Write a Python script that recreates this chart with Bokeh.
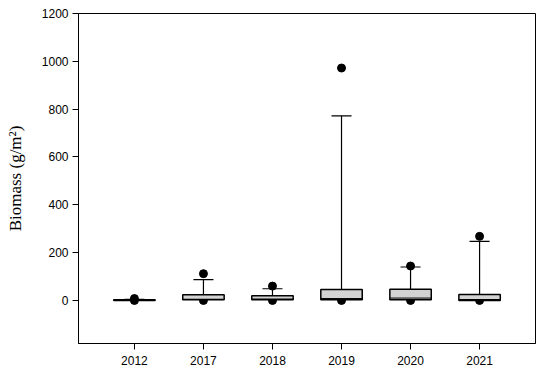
from bokeh.plotting import figure
from bokeh.models import FixedTicker, Range1d
from bokeh.embed import file_html
from bokeh.resources import INLINE

years = ["2012", "2017", "2018", "2019", "2020", "2021"]
q1 = [0, 3, 3, 3, 3, 0]
median = [1, 5, 6, 8, 10, 4]
q3 = [3, 24, 20, 46, 47, 25]
whisker_lo = [0, 0, 0, 0, 0, 0]
whisker_hi = [5, 87, 49, 772, 140, 247]
outlier_hi = [8, 112, 60, 972, 144, 268]
outlier_lo = [0, 0, 0, 0, 0, 0]
y_ticks = [0, 200, 400, 600, 800, 1000, 1200]

xs = list(range(1, len(years) + 1))
box_w = 0.6
cap_w = 0.29

p = figure(width=548, height=372, output_backend="svg", toolbar_location=None,
           x_range=Range1d(0.19, 6.81), y_range=Range1d(-180, 1200),
           min_border_left=78, min_border_right=13, min_border_top=13, min_border_bottom=29)
p.grid.visible = False
p.outline_line_color = "black"
p.outline_line_width = 1
p.background_fill_color = "white"
p.border_fill_color = "white"

# lower outliers (partly hidden behind boxes)
p.scatter(x=xs, y=outlier_lo, size=8, color="black")
# whiskers
p.segment(x0=xs, y0=q3, x1=xs, y1=whisker_hi, line_color="black", line_width=1.2)
p.segment(x0=xs, y0=q1, x1=xs, y1=whisker_lo, line_color="black", line_width=1.2)
p.segment(x0=[x - cap_w / 2 for x in xs], y0=whisker_hi,
          x1=[x + cap_w / 2 for x in xs], y1=whisker_hi, line_color="black", line_width=1.2)
# boxes
p.vbar(x=xs, bottom=q1, top=q3, width=box_w, fill_color="#d3d3d3",
       line_color="black", line_width=1.5)
p.segment(x0=[x - box_w / 2 for x in xs], y0=median,
          x1=[x + box_w / 2 for x in xs], y1=median, line_color="black", line_width=1)
# upper outliers
p.scatter(x=xs, y=outlier_hi, size=8, color="black")

p.xaxis.ticker = FixedTicker(ticks=xs)
p.xaxis.major_label_overrides = {x: y for x, y in zip(xs, years)}
p.yaxis.ticker = FixedTicker(ticks=y_ticks)
for ax in (p.xaxis, p.yaxis):
    ax.minor_tick_line_color = None
    ax.major_tick_in = 0
    ax.major_tick_out = 6
    ax.major_tick_line_color = "black"
    ax.axis_line_color = "black"
    ax.major_label_text_font = "Liberation Sans"
    ax.major_label_text_font_size = "12px"
    ax.major_label_text_color = "black"
p.xaxis.major_label_standoff = 6
p.yaxis.major_label_standoff = 4
p.yaxis.axis_label = "Biomass (g/m²)"
p.yaxis.axis_label_text_font = "Liberation Serif"
p.yaxis.axis_label_text_font_style = "normal"
p.yaxis.axis_label_text_font_size = "17px"
p.yaxis.axis_label_text_color = "black"
p.yaxis.axis_label_standoff = 14

open("out.html", "w").write(file_html(p, INLINE))
